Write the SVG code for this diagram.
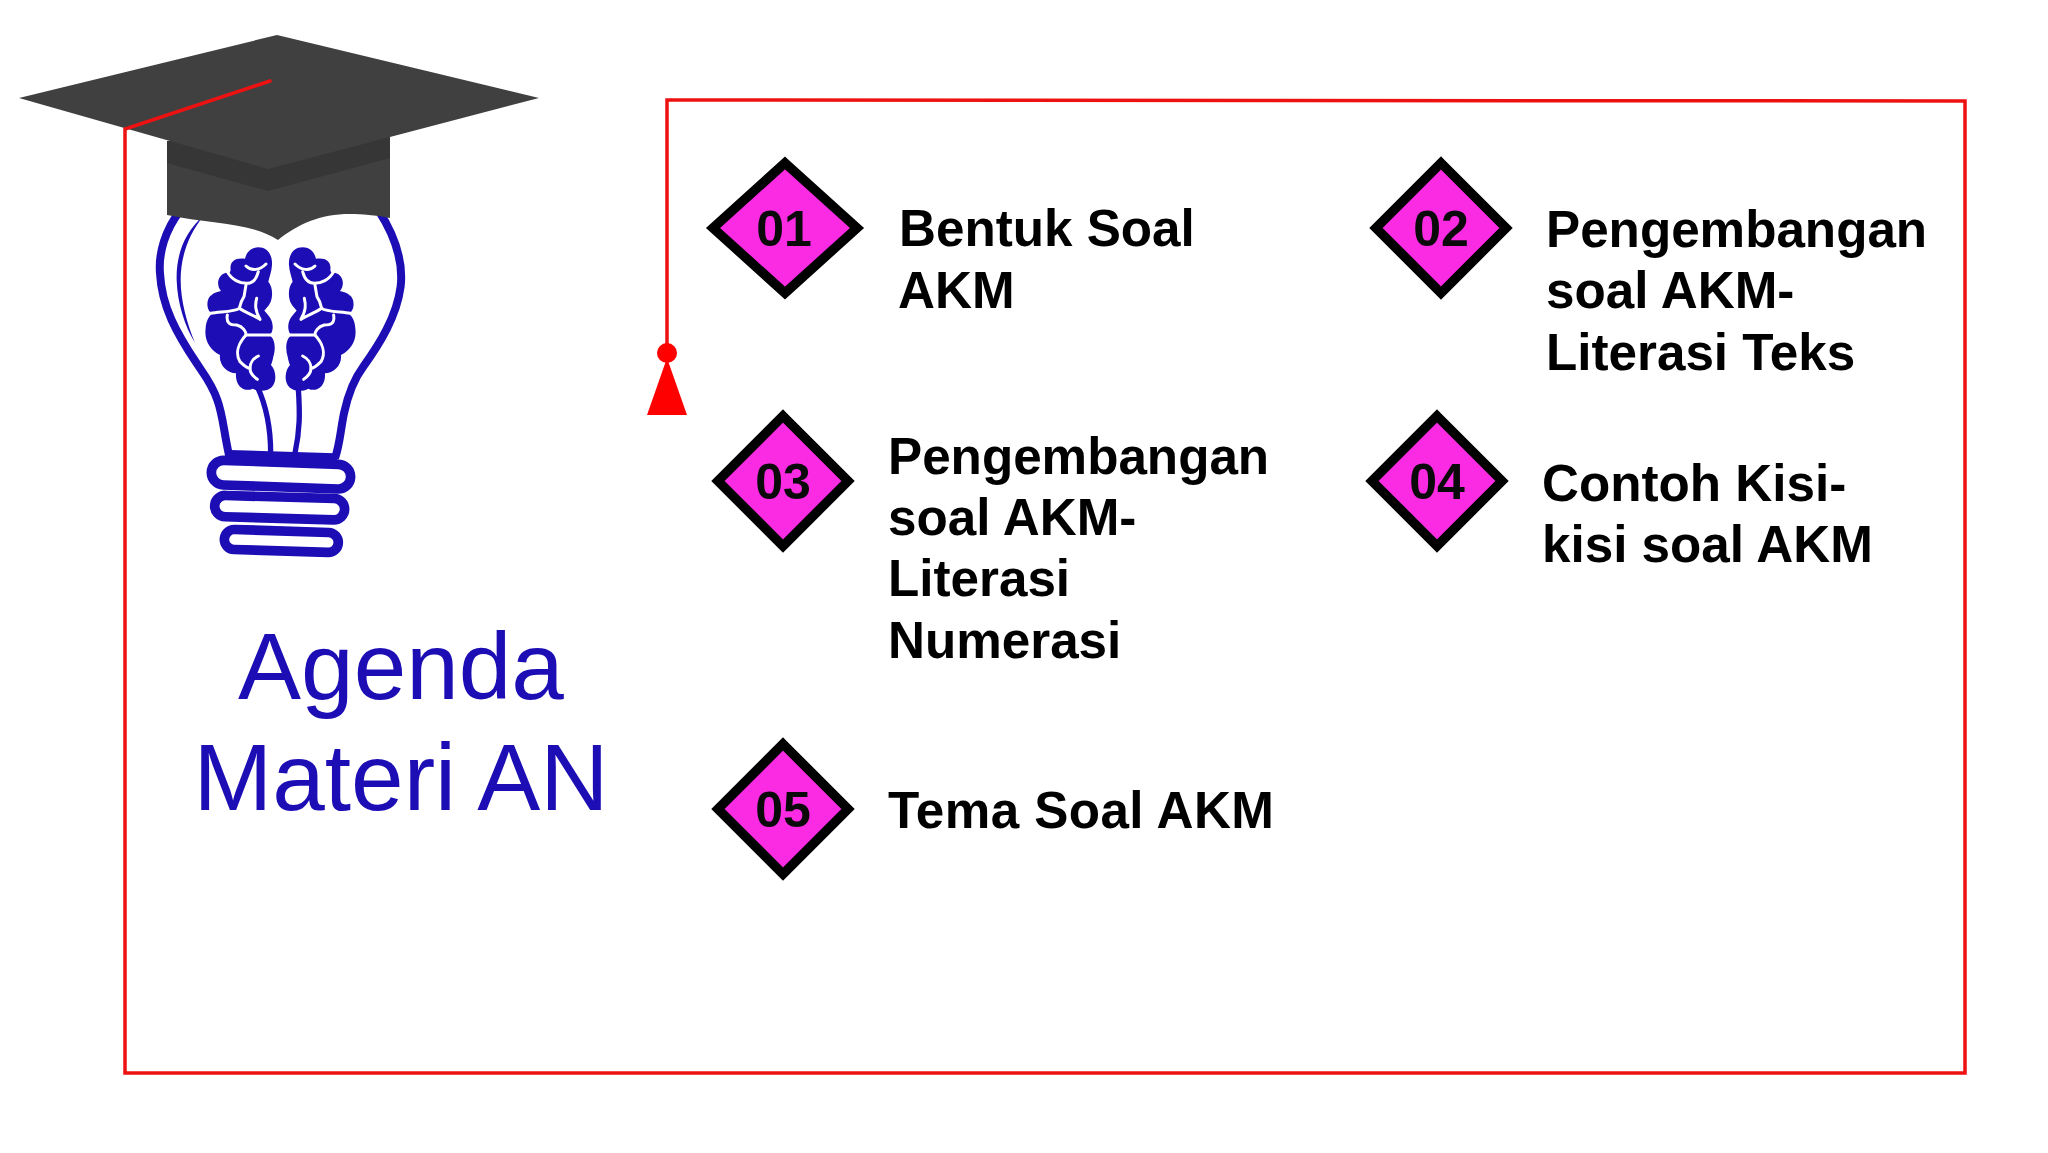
<svg xmlns="http://www.w3.org/2000/svg" width="2048" height="1153" viewBox="0 0 2048 1153">
<style>
.d{fill:#fb2be3;stroke:#000;stroke-width:9.500;stroke-miterlimit:10}
.n{font:bold 50px "Liberation Sans",Arial,sans-serif;text-anchor:middle;fill:#0a0a0a}
.t{font:bold 51.200px "Liberation Sans",Arial,sans-serif;fill:#000}
.a{font:94.500px "Liberation Sans",Arial,sans-serif;text-anchor:middle;fill:#1c0db5}
.r{fill:none;stroke:#ee1111;stroke-width:3.5;stroke-linecap:round}
.b{fill:none;stroke:#1c0db5}
.v{fill:none;stroke:#fff;stroke-width:9;stroke-linecap:round;stroke-linejoin:round}
</style>
<defs>
<path id="brain" fill="#1c0db5" d="M355 142C382 142 398 165 396 195C395 215 388 230 385 245C398 260 400 290 390 310C385 320 378 325 373 332C385 345 400 360 398 385C397 395 394 402 388 406C405 415 408 445 400 470C398 480 396 488 393 495C408 510 412 545 395 562C380 576 355 575 338 566C315 578 285 560 288 520C262 520 236 495 240 465C210 450 192 420 197 385C198 365 205 350 218 340C198 335 197 295 215 285C222 278 232 276 243 273C228 255 232 225 258 218C262 221 270 222 272 210C268 185 285 172 315 176C320 155 335 142 355 142Z"/>
<g id="veins" class="v">
<path d="M318 198C335 215 360 210 378 192"/>
<path d="M262 215C275 240 300 250 320 250C340 250 350 235 355 215"/>
<path d="M318 255L312 290C305 300 300 315 298 325C285 335 240 335 212 340"/>
<path d="M298 325C320 340 340 345 360 358M350 295C345 315 345 330 360 358"/>
<path d="M262 345C258 370 270 375 290 375C310 380 318 395 318 405L395 405"/>
<path d="M318 405C295 430 285 460 300 485C310 495 320 505 330 505C330 520 340 530 352 538"/>
<path d="M355 468C340 475 330 490 330 505"/>
</g>
</defs>
<rect width="2048" height="1153" fill="#fff"/>
<g id="bulb" transform="translate(140 200) scale(.3333)">
<path class="b" stroke-width="24" d="M122 30C75 90 55 160 60 220C65 320 110 400 170 490C190 520 215 550 232 600C250 650 250 690 268 770"/>
<path class="b" stroke-width="24" d="M715 30C770 115 790 190 782 260C770 350 720 430 670 500C640 540 625 580 612 640C600 700 600 730 585 775"/>
<path fill="#1c0db5" d="M190 48C130 100 108 170 110 240C112 310 135 380 165 428C140 370 122 300 122 240C122 170 145 105 190 48Z"/>
<use href="#brain"/><use href="#veins"/>
<g transform="translate(843 0) scale(-1 1)"><use href="#brain"/><use href="#veins"/></g>
<path class="b" stroke-width="16" d="M352 560C380 620 392 680 392 760M475 565C480 640 480 690 465 760"/>
<path fill="#1c0db5" d="M270 750L585 760L600 800L250 790Z"/>
<rect class="b" stroke-width="29" x="214" y="787" width="418" height="74" rx="37" transform="rotate(2 423 824)"/>
<rect class="b" stroke-width="29" x="224" y="891" width="390" height="64" rx="32" transform="rotate(1.600 419 923)"/>
<rect class="b" stroke-width="29" x="253" y="993" width="342" height="60" rx="30" transform="rotate(1.800 423 1023)"/>
</g>
<g id="cap">
<path fill="#404040" d="M167 141L390 137L390 218C375 215 362 214 350 214C320 214 298 224 278 240C250 222 210 224 167 215Z"/>
<path fill="#363636" d="M167 141L390 137L390 158L268 191L167 163Z"/>
<path fill="#404040" d="M277 35L539 98L268 169L19 98Z"/>
</g>
<g id="connectors">
<path class="r" d="M270 81L125 129L125 1073L1965 1073L1965 101L667 100L667 350"/>
</g>
<g id="tassel" fill="#ff0000">
<circle cx="667" cy="353" r="10"/>
<path d="M667 358L687 415L647 415Z"/>
</g>
<g id="title"><text class="a" x="401" y="699">Agenda</text><text class="a" x="401" y="810">Materi AN</text></g>
<g id="item1"><path class="d" d="M785 163L857 228L785 293L713 228Z"/><text class="n" x="784" y="246">01</text>
<text class="t" x="899" y="246">Bentuk Soal</text><text class="t" x="898" y="308">AKM</text></g>
<g id="item2"><path class="d" d="M1441 163L1506 228L1441 293L1376 228Z"/><text class="n" x="1441" y="246">02</text>
<text class="t" x="1546" y="247">Pengembangan</text><text class="t" x="1546" y="308">soal AKM-</text><text class="t" x="1546" y="370">Literasi Teks</text></g>
<g id="item3"><path class="d" d="M783 416L848 481L783 546L718 481Z"/><text class="n" x="783" y="499">03</text>
<text class="t" x="888" y="474">Pengembangan</text><text class="t" x="888" y="535">soal AKM-</text><text class="t" x="888" y="596">Literasi</text><text class="t" x="888" y="658">Numerasi</text></g>
<g id="item4"><path class="d" d="M1437 416L1502 481L1437 546L1372 481Z"/><text class="n" x="1437" y="499">04</text>
<text class="t" x="1542" y="501">Contoh Kisi-</text><text class="t" x="1542" y="562">kisi soal AKM</text></g>
<g id="item5"><path class="d" d="M783 744L848 809L783 874L718 809Z"/><text class="n" x="783" y="827">05</text>
<text class="t" x="888" y="828" textLength="386">Tema Soal AKM</text></g>
</svg>
